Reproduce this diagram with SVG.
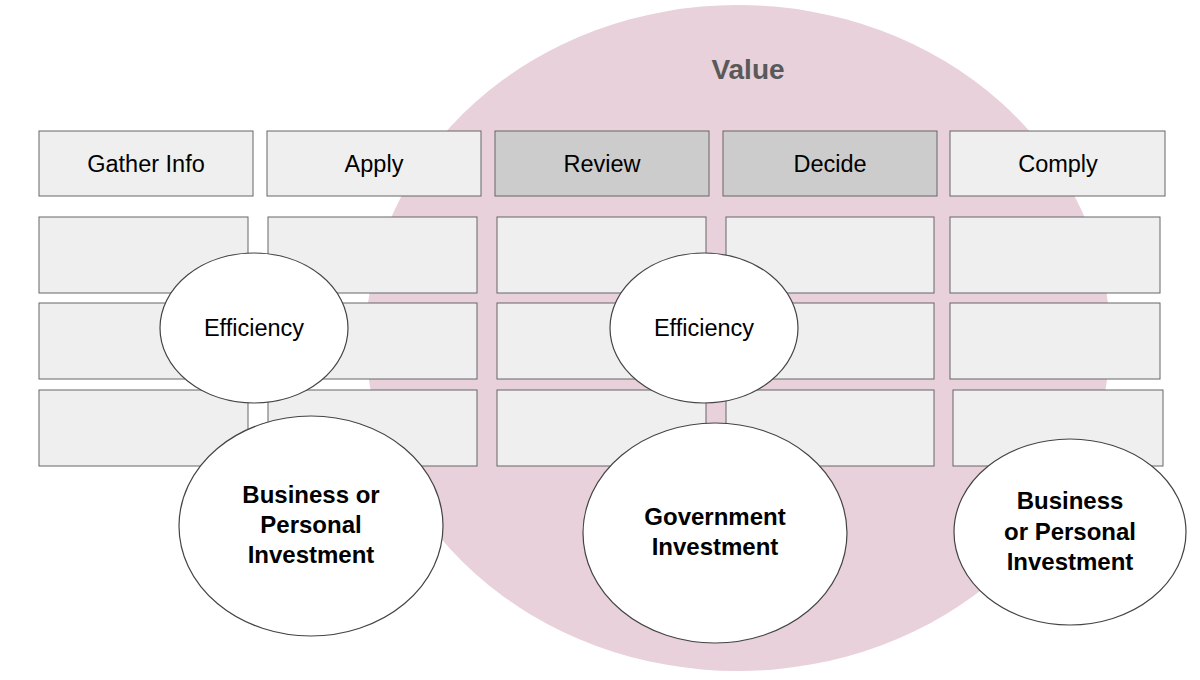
<svg xmlns="http://www.w3.org/2000/svg" width="1200" height="680" viewBox="0 0 1200 680">
<style>
.b{fill:#efefef;stroke:#666;stroke-width:1}
.g{fill:#cccccc;stroke:#666;stroke-width:1}
.e{fill:#fff;stroke:#444;stroke-width:1.2}
text{font-family:Arial,"Liberation Sans",sans-serif;text-anchor:middle;fill:#000}
.h{font-size:23.5px}
.bo{font-size:24px;font-weight:bold}
</style>
<rect width="1200" height="680" fill="#fff"/>
<g id="value"><ellipse cx="738" cy="338" rx="372" ry="333" fill="#e8d1da"/>
<text x="748" y="79" style="font-size:28px;font-weight:bold;fill:#595959">Value</text></g>
<g id="headers">
<rect class="b" x="39" y="131" width="214" height="65"/><text class="h" x="146" y="172">Gather Info</text>
<rect class="b" x="267" y="131" width="214" height="65"/><text class="h" x="374" y="172">Apply</text>
<rect class="g" x="495" y="131" width="214" height="65"/><text class="h" x="602" y="172">Review</text>
<rect class="g" x="723" y="131" width="214" height="65"/><text class="h" x="830" y="172">Decide</text>
<rect class="b" x="950" y="131" width="215" height="65"/><text class="h" x="1058" y="172">Comply</text>
</g>
<g id="grid">
<rect class="b" x="39" y="217" width="209" height="76"/><rect class="b" x="268" y="217" width="209" height="76"/><rect class="b" x="497" y="217" width="209" height="76"/><rect class="b" x="726" y="217" width="208" height="76"/><rect class="b" x="950" y="217" width="210" height="76"/>
<rect class="b" x="39" y="303" width="209" height="76"/><rect class="b" x="268" y="303" width="209" height="76"/><rect class="b" x="497" y="303" width="209" height="76"/><rect class="b" x="726" y="303" width="208" height="76"/><rect class="b" x="950" y="303" width="210" height="76"/>
<rect class="b" x="39" y="390" width="209" height="76"/><rect class="b" x="268" y="390" width="209" height="76"/><rect class="b" x="497" y="390" width="209" height="76"/><rect class="b" x="726" y="390" width="208" height="76"/><rect class="b" x="953" y="390" width="210" height="76"/>
</g>
<g id="eff1"><ellipse class="e" cx="254" cy="328" rx="94" ry="75"/><text class="h" x="254" y="336">Efficiency</text></g>
<g id="eff2"><ellipse class="e" cx="704" cy="328" rx="94" ry="75"/><text class="h" x="704" y="336">Efficiency</text></g>
<g id="biz1"><ellipse class="e" cx="311" cy="526" rx="132" ry="110"/><text class="bo" x="311" y="503">Business or</text><text class="bo" x="311" y="533">Personal</text><text class="bo" x="311" y="563">Investment</text></g>
<g id="gov"><ellipse class="e" cx="715" cy="533" rx="132" ry="110"/><text class="bo" x="715" y="525">Government</text><text class="bo" x="715" y="555">Investment</text></g>
<g id="biz2"><ellipse class="e" cx="1070" cy="532" rx="116" ry="93"/><text class="bo" x="1070" y="509">Business</text><text class="bo" x="1070" y="540">or Personal</text><text class="bo" x="1070" y="570">Investment</text></g>
<g id="connectors"/>
</svg>
